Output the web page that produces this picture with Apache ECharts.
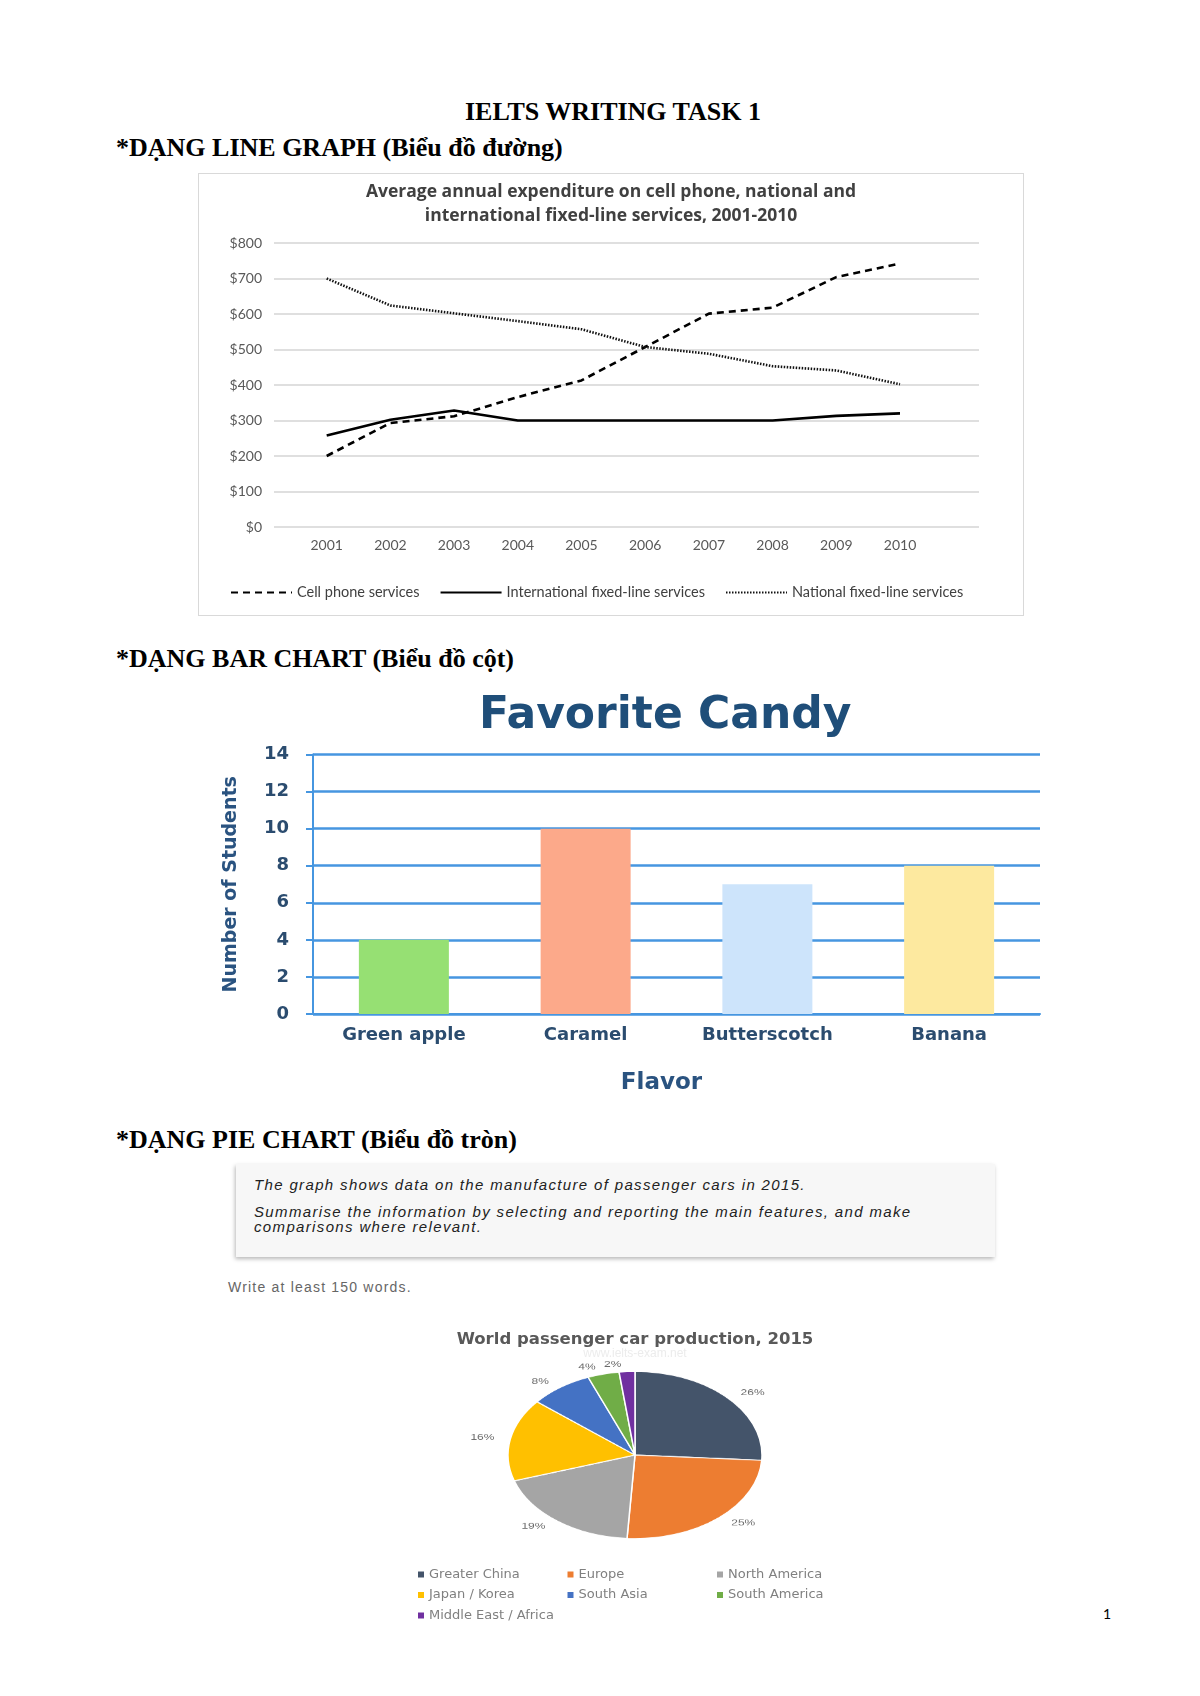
<!DOCTYPE html>
<html>
<head>
<meta charset="utf-8">
<title>IELTS Writing Task 1</title>
<script src="https://cdn.jsdelivr.net/npm/echarts@6/dist/echarts.min.js"></script>
<style>
  html, body { margin: 0; padding: 0; background: #fff; }
  #page { position: relative; width: 1200px; height: 1696px; overflow: hidden; background: #fff; }
  .head { position: absolute; font-family: "Liberation Serif", "Times New Roman", serif; font-weight: bold;
          font-size: 26px; line-height: 26px; color: #000; white-space: nowrap; }
  #lineBox { position: absolute; left: 198px; top: 173px; width: 824px; height: 441px; border: 1px solid #d9d9d9; }
  #lineChart { width: 824px; height: 441px; }
  #barChart { position: absolute; left: 0; top: 680px; width: 1200px; height: 440px; }
  #taskBox { position: absolute; left: 236px; top: 1164px; width: 759px; height: 93px; background: #f7f7f7;
             box-shadow: -1px 2px 4px rgba(0,0,0,0.28); font-family: "Liberation Sans", Arial, sans-serif;
             font-style: italic; font-size: 15px; color: #222; letter-spacing: 1.35px; }
  #taskBox div { position: absolute; left: 18px; white-space: nowrap; }
  #words { position: absolute; left: 228px; top: 1279px; font-family: "Liberation Sans", Arial, sans-serif;
           font-size: 14px; color: #666; letter-spacing: 1.2px; white-space: nowrap; }
  #pieFrame { position: absolute; left: 200px; top: 1310px; width: 870px; height: 320px; }
  #pieChart { position: absolute; left: 435px; top: 1255px; width: 400px; height: 400px;
              transform: scaleY(0.658); transform-origin: 50% 50%; }
  #pageNo { position: absolute; left: 1103px; top: 1605px; font-family: Lato, sans-serif; font-size: 14px; color: #000; }
</style>
</head>
<body>
<div id="page">
  <div class="head" style="left:613px;top:99px;transform:translateX(-50%);">IELTS WRITING TASK 1</div>
  <div class="head" style="left:116px;top:135px;">*DẠNG LINE GRAPH (Biểu đồ đường)</div>
  <div id="lineBox"><div id="lineChart"></div></div>

  <div class="head" style="left:116px;top:646px;">*DẠNG BAR CHART (Biểu đồ cột)</div>
  <div id="barChart"></div>

  <div class="head" style="left:116px;top:1127px;">*DẠNG PIE CHART (Biểu đồ tròn)</div>
  <div id="taskBox">
    <div style="top:12px;">The graph shows data on the manufacture of passenger cars in 2015.</div>
    <div style="top:39px;">Summarise the information by selecting and reporting the main features, and make</div>
    <div style="top:54px;">comparisons where relevant.</div>
  </div>
  <div id="words">Write at least 150 words.</div>
  <div id="pieFrame"></div>
  <div id="pieChart"></div>
  <div id="pageNo">1</div>
</div>

<script>
// line graph data
const years = [2001, 2002, 2003, 2004, 2005, 2006, 2007, 2008, 2009, 2010];
const cellPhone = [200, 293, 312, 366, 413, 507, 601, 618, 704, 742];
const intlFixed = [258, 302, 328, 300, 300, 300, 300, 300, 313, 320];
const natlFixed = [700, 624, 602, 580, 557, 507, 488, 453, 441, 402];

// bar chart data
const flavors = ['Green apple', 'Caramel', 'Butterscotch', 'Banana'];
const students = [4, 10, 7, 8];
const flavorColors = ['#96e073', '#fca98a', '#cde4fb', '#fde99f'];

// pie chart data
const regions = ['Greater China', 'Europe', 'North America', 'Japan / Korea', 'South Asia', 'South America', 'Middle East / Africa'];
const shares = [26, 25, 19, 16, 8, 4, 2];
const regionColors = ['#44546a', '#ed7d31', '#a5a5a5', '#ffc000', '#4472c4', '#70ad47', '#7030a0'];

const gray = '#595959';
const pairs = (vals) => years.map((y, i) => [y, vals[i]]);

let lineChart = echarts.init(document.getElementById('lineChart'));
lineChart.setOption({
    animation: false,
    title: {
        text: 'Average annual expenditure on cell phone, national and\ninternational fixed-line services, 2001-2010',
        left: 'center',
        top: 1,
        textStyle: { fontFamily: 'Open Sans', fontSize: 17.5, fontWeight: 'bold', color: '#404040', lineHeight: 24 }
    },
    legend: {
        left: 26,
        top: 406,
        itemWidth: 61,
        itemHeight: 2,
        itemGap: 20,
        itemStyle: { opacity: 0 },
        textStyle: { fontFamily: 'Lato', fontSize: 14.5, color: '#404040' }
    },
    grid: { left: 75, right: 44, top: 69, bottom: 88 },
    xAxis: {
        type: 'value',
        min: 2000.173,
        max: 2011.24,
        axisLine: { show: false },
        axisTick: { show: false },
        splitLine: { show: false },
        axisLabel: {
            customValues: years,
            formatter: (v) => String(v),
            margin: 11,
            fontFamily: 'Lato', fontSize: 14, color: gray
        }
    },
    yAxis: {
        type: 'value',
        min: 0,
        max: 800,
        interval: 100,
        axisLine: { show: false },
        axisTick: { show: false },
        splitLine: { lineStyle: { color: '#d4d4d4', width: 1.5 } },
        axisLabel: { formatter: '${value}', margin: 12, fontFamily: 'Lato', fontSize: 14, color: gray }
    },
    series: [{
        name: 'Cell phone services',
        type: 'line',
        data: pairs(cellPhone),
        symbol: 'none',
        itemStyle: { color: '#000' },
        lineStyle: { color: '#000', width: 2.6, type: [7, 5] }
    }, {
        name: 'International fixed-line services',
        type: 'line',
        data: pairs(intlFixed),
        symbol: 'none',
        itemStyle: { color: '#000' },
        lineStyle: { color: '#000', width: 2.6 }
    }, {
        name: 'National fixed-line services',
        type: 'line',
        data: pairs(natlFixed),
        symbol: 'none',
        itemStyle: { color: '#111' },
        lineStyle: { color: '#111', width: 2.6, type: [1.5, 1.5] }
    }]
});

const navy = '#1f4e79';
const labelNavy = '#2b4c6f';
const axisBlue = '#4696e0';
let barChart = echarts.init(document.getElementById('barChart'));
barChart.setOption({
    animation: false,
    title: {
        text: 'Favorite Candy',
        left: 474,
        top: 10,
        textStyle: { fontFamily: 'DejaVu Sans', fontSize: 44, fontWeight: 'bold', color: navy }
    },
    grid: { left: 313, right: 160, top: 74.5, bottom: 106 },
    xAxis: {
        type: 'category',
        data: flavors,
        name: 'Flavor',
        nameLocation: 'middle',
        nameGap: 58,
        nameTextStyle: { fontFamily: 'DejaVu Sans', fontSize: 23, fontWeight: 'bold', color: '#2a5380', padding: [0, 30, 0, 0] },
        axisLine: { lineStyle: { color: axisBlue, width: 2 } },
        axisTick: { show: false },
        axisLabel: { margin: 12, fontFamily: 'DejaVu Sans', fontSize: 18, fontWeight: 'bold', color: labelNavy }
    },
    yAxis: {
        type: 'value',
        min: 0,
        max: 14,
        interval: 2,
        name: 'Number of Students',
        nameLocation: 'middle',
        nameGap: 72,
        nameTextStyle: { fontFamily: 'DejaVu Sans', fontSize: 19, fontWeight: 'bold', color: '#2a5380' },
        axisLine: { show: true, lineStyle: { color: axisBlue, width: 2 } },
        axisTick: { show: true, length: 7, lineStyle: { color: axisBlue, width: 2 } },
        splitLine: { lineStyle: { color: axisBlue, width: 2.5 } },
        axisLabel: { margin: 24, fontFamily: 'DejaVu Sans', fontSize: 18, fontWeight: 'bold', color: labelNavy }
    },
    series: [{
        type: 'bar',
        barWidth: 90,
        data: students.map((v, i) => ({ value: v, itemStyle: { color: flavorColors[i] } }))
    }]
});

const pieItems = regions.map((n, i) => ({ name: n, value: shares[i], itemStyle: { color: regionColors[i] } }));

// title + legend (unsquashed)
let pieFrame = echarts.init(document.getElementById('pieFrame'));
pieFrame.setOption({
    animation: false,
    title: {
        text: 'World passenger car production, 2015',
        subtext: 'www.ielts-exam.net',
        left: 'center',
        top: 16,
        itemGap: 0,
        textStyle: { fontFamily: 'DejaVu Sans', fontSize: 16.5, fontWeight: 'bold', color: gray },
        subtextStyle: { fontFamily: 'Liberation Sans', fontSize: 12, color: '#ececec' }
    },
    legend: {
        left: 213,
        top: 253,
        width: 460,
        icon: 'rect',
        itemWidth: 6,
        itemHeight: 6,
        itemGap: 7.5,
        textStyle: { width: 131, lineHeight: 10, fontFamily: 'DejaVu Sans', fontSize: 13, color: '#808080' }
    },
    series: [{
        type: 'pie',
        center: [-100, -100],
        radius: 0,
        silent: true,
        label: { show: false },
        labelLine: { show: false },
        data: pieItems
    }]
});

// the pie itself, squashed vertically into an ellipse like the original
let pieChart = echarts.init(document.getElementById('pieChart'));
pieChart.setOption({
    animation: false,
    series: [{
        type: 'pie',
        center: ['50%', '50%'],
        radius: 127,
        startAngle: 90,
        avoidLabelOverlap: false,
        itemStyle: { borderColor: '#fff', borderWidth: 1.5 },
        label: {
            show: true,
            position: 'outside',
            formatter: (p) => p.value + '%',
            fontFamily: 'Liberation Sans', fontSize: 12, color: '#6b6b6b'
        },
        labelLine: { show: false, length: 11, length2: 0 },
        data: pieItems
    }]
});
</script>
</body>
</html>
